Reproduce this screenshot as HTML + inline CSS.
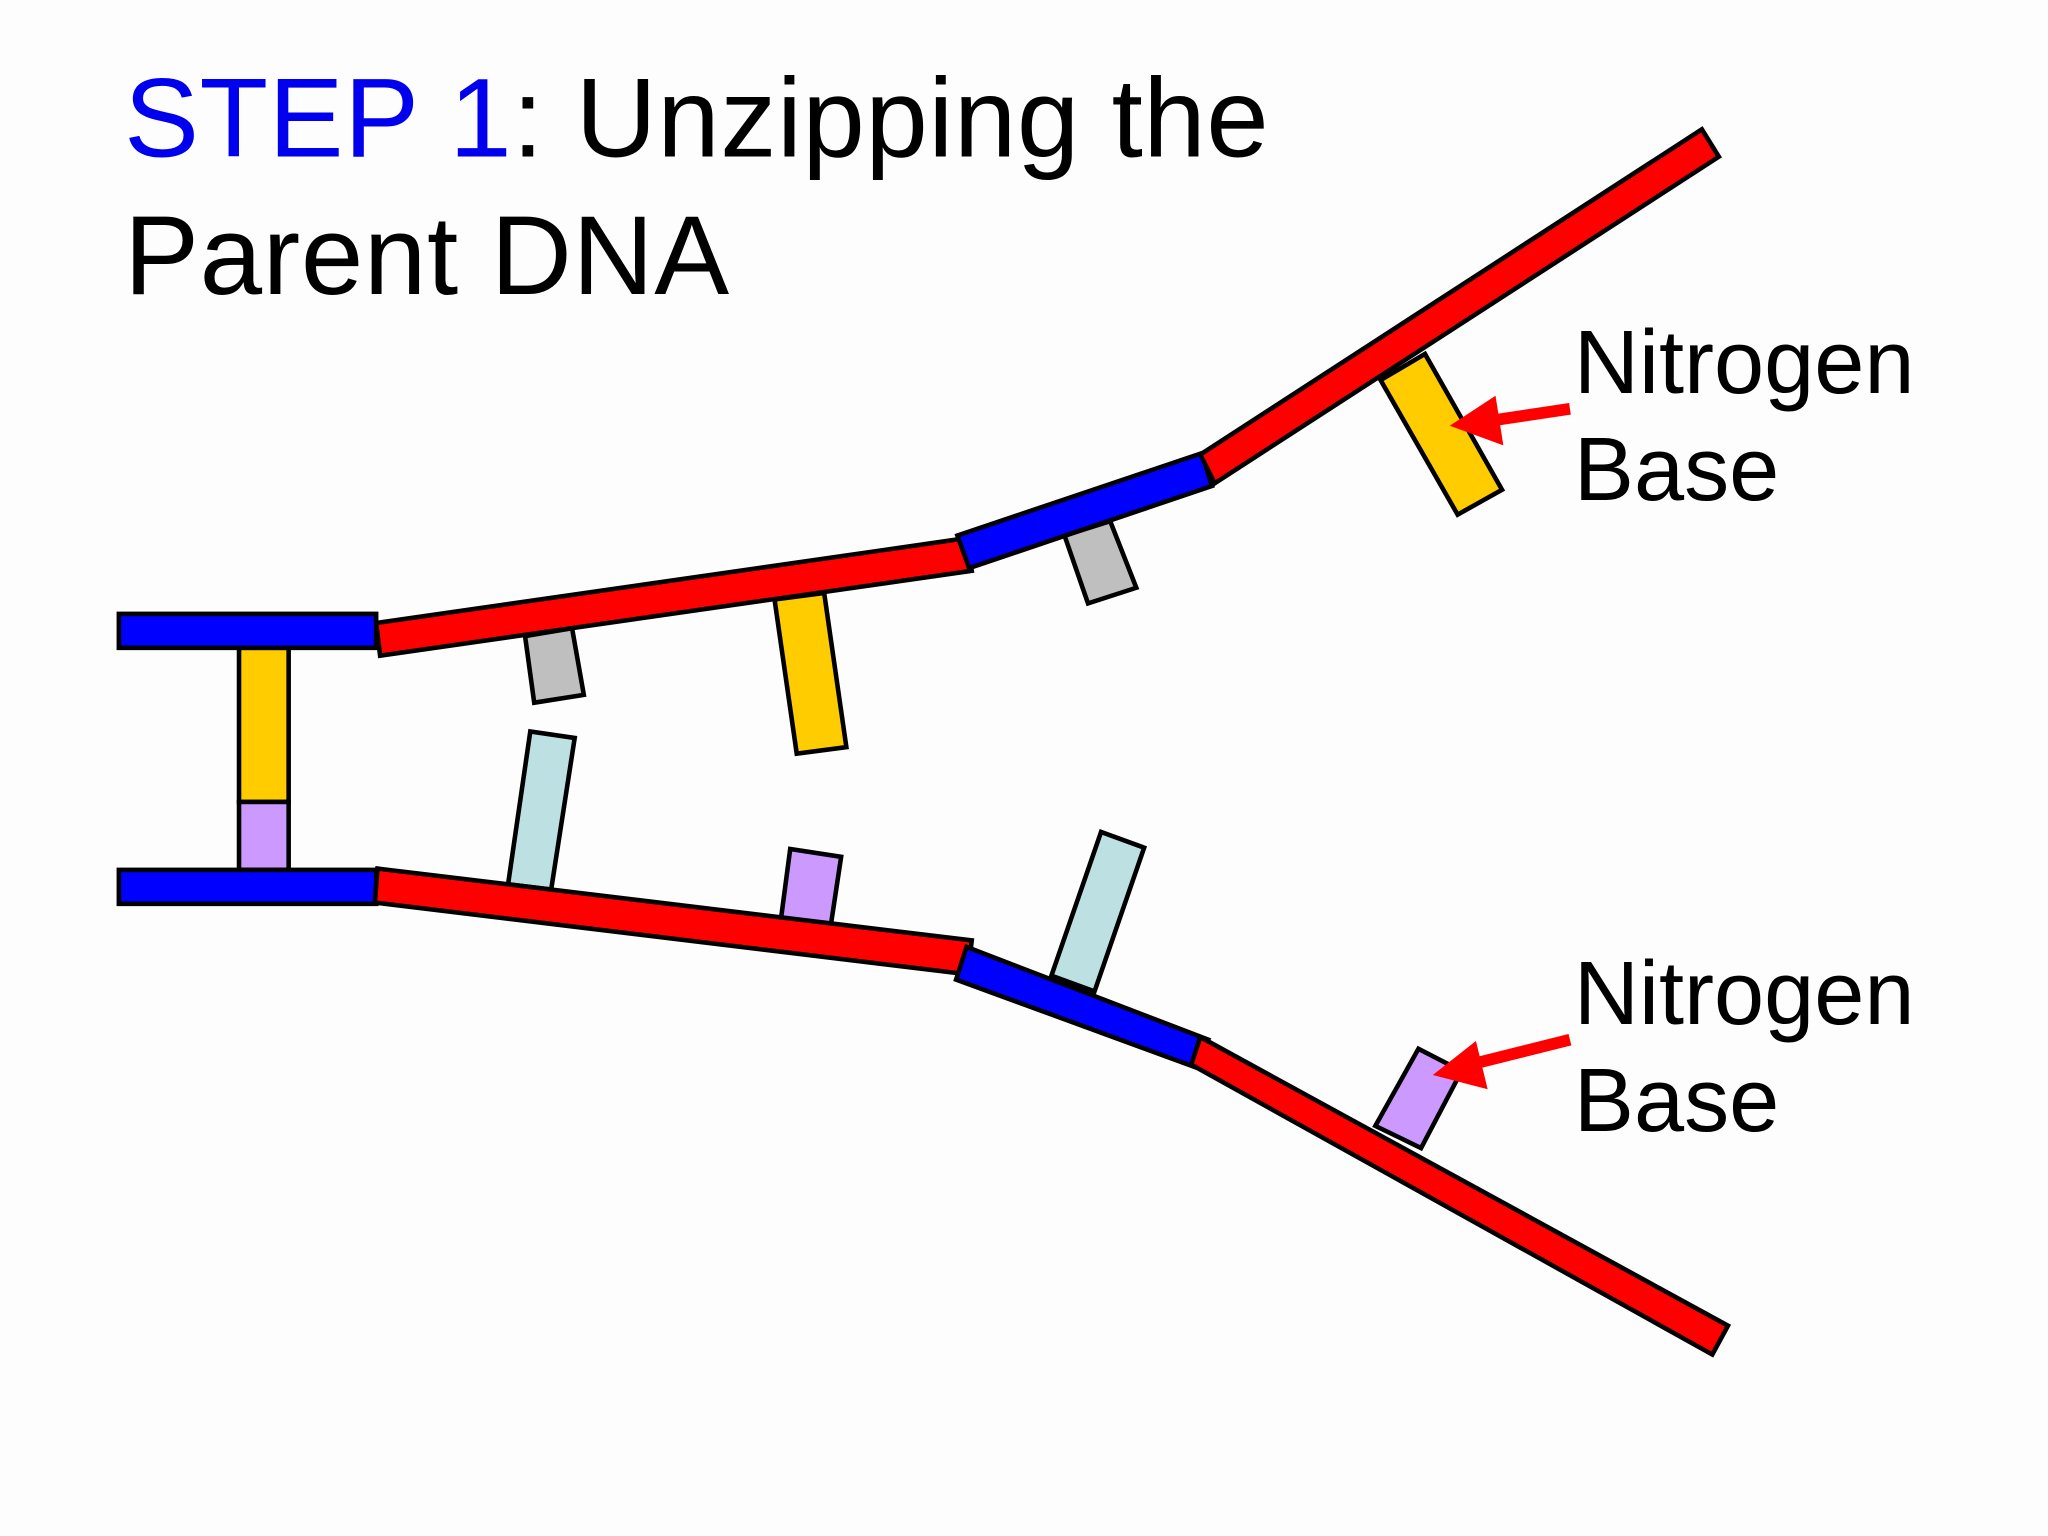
<!DOCTYPE html>
<html><head><style>html,body{margin:0;padding:0;background:#fdfdfd;}svg{display:block}</style></head>
<body>
<svg width="2048" height="1536" viewBox="0 0 1568 1176" xmlns="http://www.w3.org/2000/svg">
<rect width="1568" height="1176" fill="#fdfdfd"/>
<g font-family="Liberation Sans, sans-serif" font-size="86">
<text x="95" y="120" letter-spacing="0.4"><tspan fill="#0000ee">STEP 1</tspan><tspan fill="#000">: Unzipping the</tspan></text>
<text x="95" y="225" fill="#000" letter-spacing="0.5">Parent DNA</text>
</g>
<g font-family="Liberation Sans, sans-serif" font-size="69" fill="#000">
<text x="1205" y="301">Nitrogen</text>
<text x="1205" y="383">Base</text>
<text x="1205" y="784">Nitrogen</text>
<text x="1205" y="866">Base</text>
</g>
<g stroke="#000" stroke-width="3.5" stroke-linejoin="miter">
<polygon points="402,487 438,481 447,532 409,538" fill="#c0bfc0"/>
<polygon points="593,459 631,454 648,572 610,577" fill="#ffcc00"/>
<polygon points="815,410 850,399 870,450 833,462" fill="#c0bfc0"/>
<polygon points="1057,291 1091,271 1150,375 1116,394" fill="#ffcc00"/>
<polygon points="389,677 406,560 440,565 422,681" fill="#bde0e2"/>
<polygon points="598,703 605,650 644,656 636,709" fill="#cc99ff"/>
<polygon points="805,747 843,637 876,649 838,759" fill="#bde0e2"/>
<polygon points="1053,862 1086,803 1119,820 1088,879" fill="#cc99ff"/>
<rect x="183" y="496" width="38" height="118" fill="#ffcc00"/>
<rect x="183" y="614" width="38" height="52" fill="#cc99ff"/>
<rect x="91" y="470" width="197" height="26" fill="#0000ff"/>
<rect x="91" y="666" width="197" height="26" fill="#0000ff"/>
<polygon points="288,477 740,412 744,437 291,502" fill="#ff0000"/>
<polygon points="733,410 920,347 928,372 742,435" fill="#0000ff"/>
<polygon points="919,348 1303,99 1316,120 930,370" fill="#ff0000"/>
<polygon points="289,665 744,720 741,746 287,691" fill="#ff0000"/>
<polygon points="740,725 925,796 915,817 732,750" fill="#0000ff"/>
<polygon points="919,794 1323,1015 1311,1037 912,815" fill="#ff0000"/>
</g>
<g fill="#ff0000" stroke="#ff0000">
<line x1="1202" y1="313" x2="1135" y2="323" stroke-width="9"/>
<polygon points="1110,326 1145,303 1151,341" stroke="none"/>
<line x1="1202" y1="796" x2="1122" y2="816" stroke-width="9"/>
<polygon points="1097,823 1130,797 1139,834" stroke="none"/>
</g>
</svg>
</body></html>
